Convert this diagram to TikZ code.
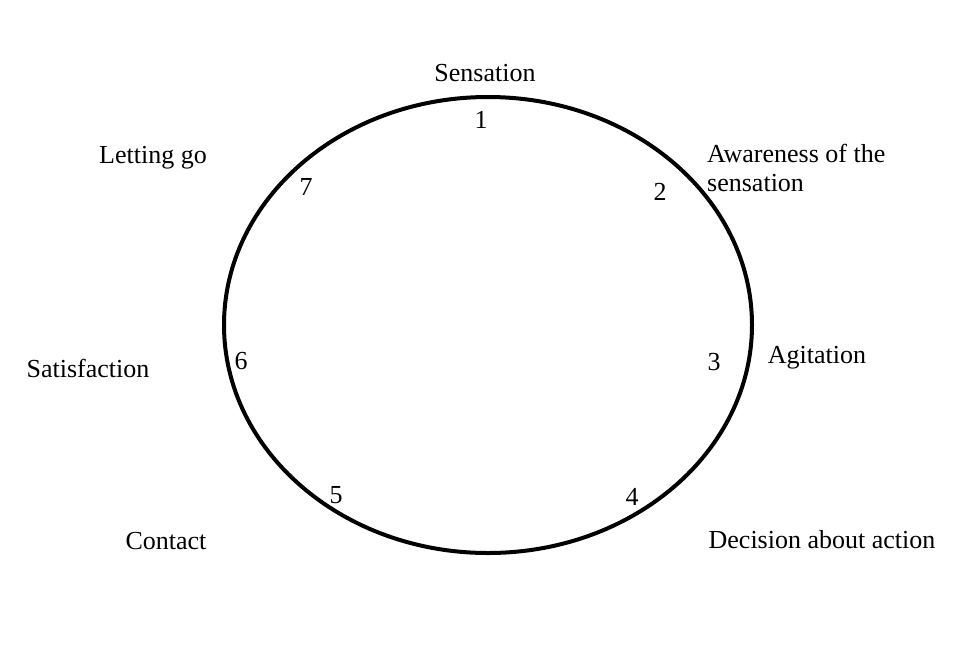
\documentclass[tikz,border=0pt]{standalone}
\usepackage{fontspec}
\setmainfont{Liberation Serif}
\usetikzlibrary{shapes.geometric}
\begin{document}
\begin{tikzpicture}[x=1pt,y=-1pt,
  lbl/.style={inner sep=0pt,font=\fontsize{26}{29}\selectfont},
  num/.style={inner sep=0pt,font=\fontsize{26}{29}\selectfont},
  ring/.style={ellipse,draw,line width=4pt,minimum width=528pt,minimum height=456pt,inner sep=0pt}]
\useasboundingbox (0,0) rectangle (975,662);
\node[ring] (c) at (488,325) {};
\node[lbl] (sens) at (485,73) {Sensation};
\node[num] (n1) at (481,120) {1};
\node[lbl,anchor=west,align=left] (aw) at (707,168) {Awareness of the\\sensation};
\node[num] (n2) at (660,192) {2};
\node[lbl] (let) at (153,158) {Letting go};
\node[num] (n7) at (306,187) {7};
\node[lbl] (sat) at (88,368) {Satisfaction};
\node[num] (n6) at (241,361) {6};
\node[num] (n3) at (714,362) {3};
\node[lbl] (ag) at (817,358) {Agitation};
\node[num] (n5) at (336,495) {5};
\node[num] (n4) at (632,497) {4};
\node[lbl] (con) at (166,541) {Contact};
\node[lbl] (dec) at (822,540) {Decision about action};
\end{tikzpicture}
\end{document}
